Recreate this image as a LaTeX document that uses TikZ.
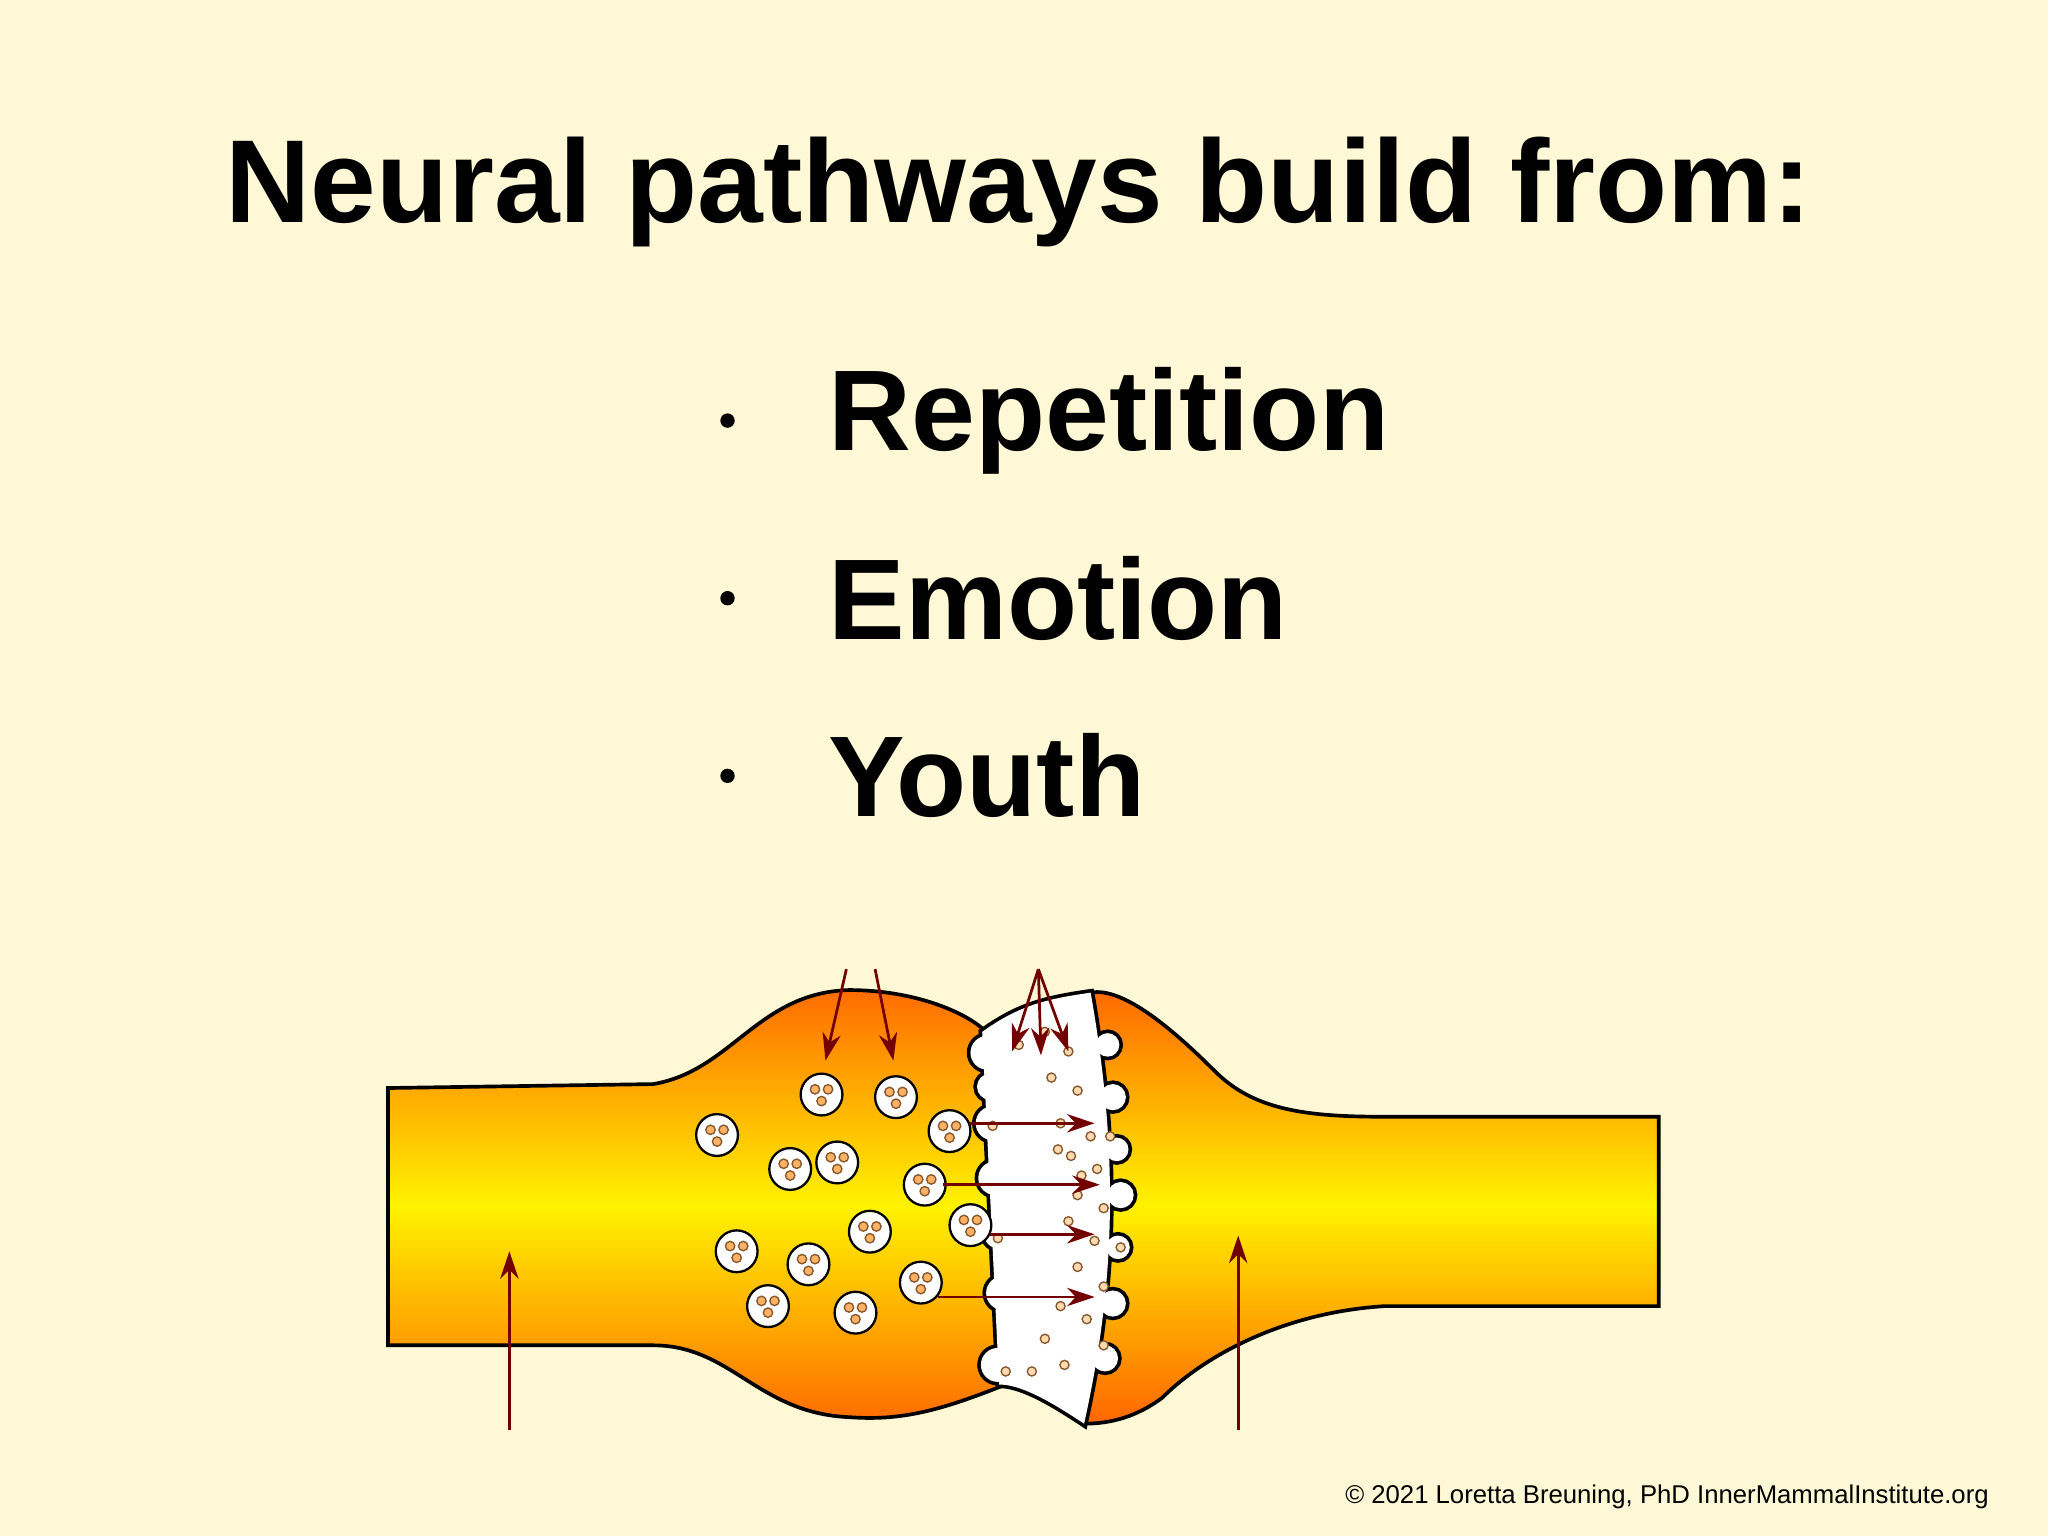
\documentclass[tikz,border=0pt]{standalone}
\usepackage{fontspec}
\setmainfont{Liberation Sans}
\usetikzlibrary{arrows.meta}
\begin{document}
\begin{tikzpicture}[x=0.1mm,y=-0.1mm,
  ves/.style={draw=black,line width=0.5pt,fill=white},
  vdot/.style={draw=brown!70!black,fill=orange!60,line width=0.3pt},
  arr/.style={draw=red!45!black,line width=0.6pt,-{Stealth[length=6pt,width=4pt]}},
  cleftdot/.style={draw=brown!70!black,fill=orange!30,line width=0.3pt}]
\fill[yellow!12!white!96!orange] (0,0) rectangle (1568,1176);
\useasboundingbox (0,0) rectangle (1568,1176);
\node[font=\fontsize{25.7pt}{30pt}\bfseries] (title) at (780,147) {Neural pathways build from:};
\foreach \t/\y/\n in {Repetition/322/a,Emotion/458/b,Youth/594/c}{
  \node[anchor=west,font=\fontsize{25pt}{30pt}\bfseries] (it\n) at (622,\y) {\t};
  \fill (557,\y) circle (5.5) coordinate (bu\n);
}
\node[anchor=east,font=\fontsize{5.6pt}{7pt}\selectfont] (copy) at (1535,1146) {© 2021 Loretta Breuning, PhD InnerMammalInstitute.org};
% left neuron
\path[draw=black,line width=0.8pt,top color=orange!85!red,bottom color=orange!85!red,middle color=yellow!90!orange]
 (297,833) -- (500,830) .. controls (560,820) and (580,760) .. (650,758) .. controls (700,758) and (740,775) .. (755,790)
 -- (770,1060) .. controls (720,1080) and (690,1088) .. (650,1085) .. controls (580,1082) and (560,1030) .. (500,1030) -- (297,1030) -- cycle;
% right neuron
\path[draw=black,line width=0.8pt,top color=orange!80!red,bottom color=orange!80!red,middle color=yellow!90!orange]
 (835,760) .. controls (860,755) and (900,790) .. (930,820) .. controls (960,850) and (1000,855) .. (1060,855) -- (1270,855) -- (1270,1000) -- (1060,1000) .. controls (980,1005) and (920,1040) .. (890,1070) .. controls (870,1085) and (850,1090) .. (830,1090) .. controls (850,1000) and (860,900) .. (835,760) -- cycle;
% cleft (union outline)
\def\cleft{(752,790) .. controls (780,770) and (800,765) .. (835,760) .. controls (860,900) and (850,1000) .. (830,1090) .. controls (800,1070) and (780,1060) .. (765,1060) -- cycle}
\def\bumps{756/806/13,758/832/10,760/860/13,762/902/13,765/944/12,768/990/13,764/1045/13,
  848/800/9,852/840/10,855/880/9,858/915/10,856/955/9,852/998/10,846/1040/10}
\path[draw=black,line width=1.6pt] \cleft;
\foreach \x/\y/\r in \bumps \draw[line width=1.6pt] (\x,\y) circle (\r);
\path[fill=white] \cleft;
\foreach \x/\y/\r in \bumps \fill[white] (\x,\y) circle (\r);
\foreach \x/\y in {780/800,800/790,818/805,805/825,825/835,812/860,835/870,820/885,840/895,825/915,845/925,818/935,838/950,825/970,845/985,812/1000,832/1010,845/1030,800/1025,815/1045,790/1050,770/1050,850/870,858/955,810/880,828/900,760/862,764/948}
  \draw[cleftdot] (\x,\y) circle (3.5);
% vesicles
\foreach \x/\y [count=\i] in {629/838,686/840,549/869,727/866,605/895,641/890,708/907,743/938,666/943,564/958,619/968,705/982,588/1000,655/1005}{
  \draw[ves] (\x,\y) circle (16);
  \draw[vdot] (\x-5,\y-4) circle (3.6);
  \draw[vdot] (\x+5,\y-4) circle (3.6);
  \draw[vdot] (\x,\y+5) circle (3.6);
}
% arrows
\coordinate (t1) at (648,742); \coordinate (h1) at (632,812);
\coordinate (t2) at (670,742); \coordinate (h2) at (684,812);
\coordinate (t3) at (795,742); \coordinate (h3) at (775,805); \coordinate (h4) at (797,808); \coordinate (h5) at (818,805);
\draw[arr] (t1) -- (h1); \draw[arr] (t2) -- (h2);
\draw[arr] (t3) -- (h3); \draw[arr] (t3) -- (h4); \draw[arr] (t3) -- (h5);
\foreach \a/\b/\y in {742/838/860,722/842/907,758/838/945,718/838/993}{
  \coordinate (ha\y) at (\a,\y); \coordinate (hb\y) at (\b,\y);
  \draw[arr] (ha\y) -- (hb\y);}
\coordinate (u1) at (390,1095); \coordinate (v1) at (390,958);
\coordinate (u2) at (948,1095); \coordinate (v2) at (948,946);
\draw[arr] (u1) -- (v1); \draw[arr] (u2) -- (v2);
\end{tikzpicture}
\end{document}
